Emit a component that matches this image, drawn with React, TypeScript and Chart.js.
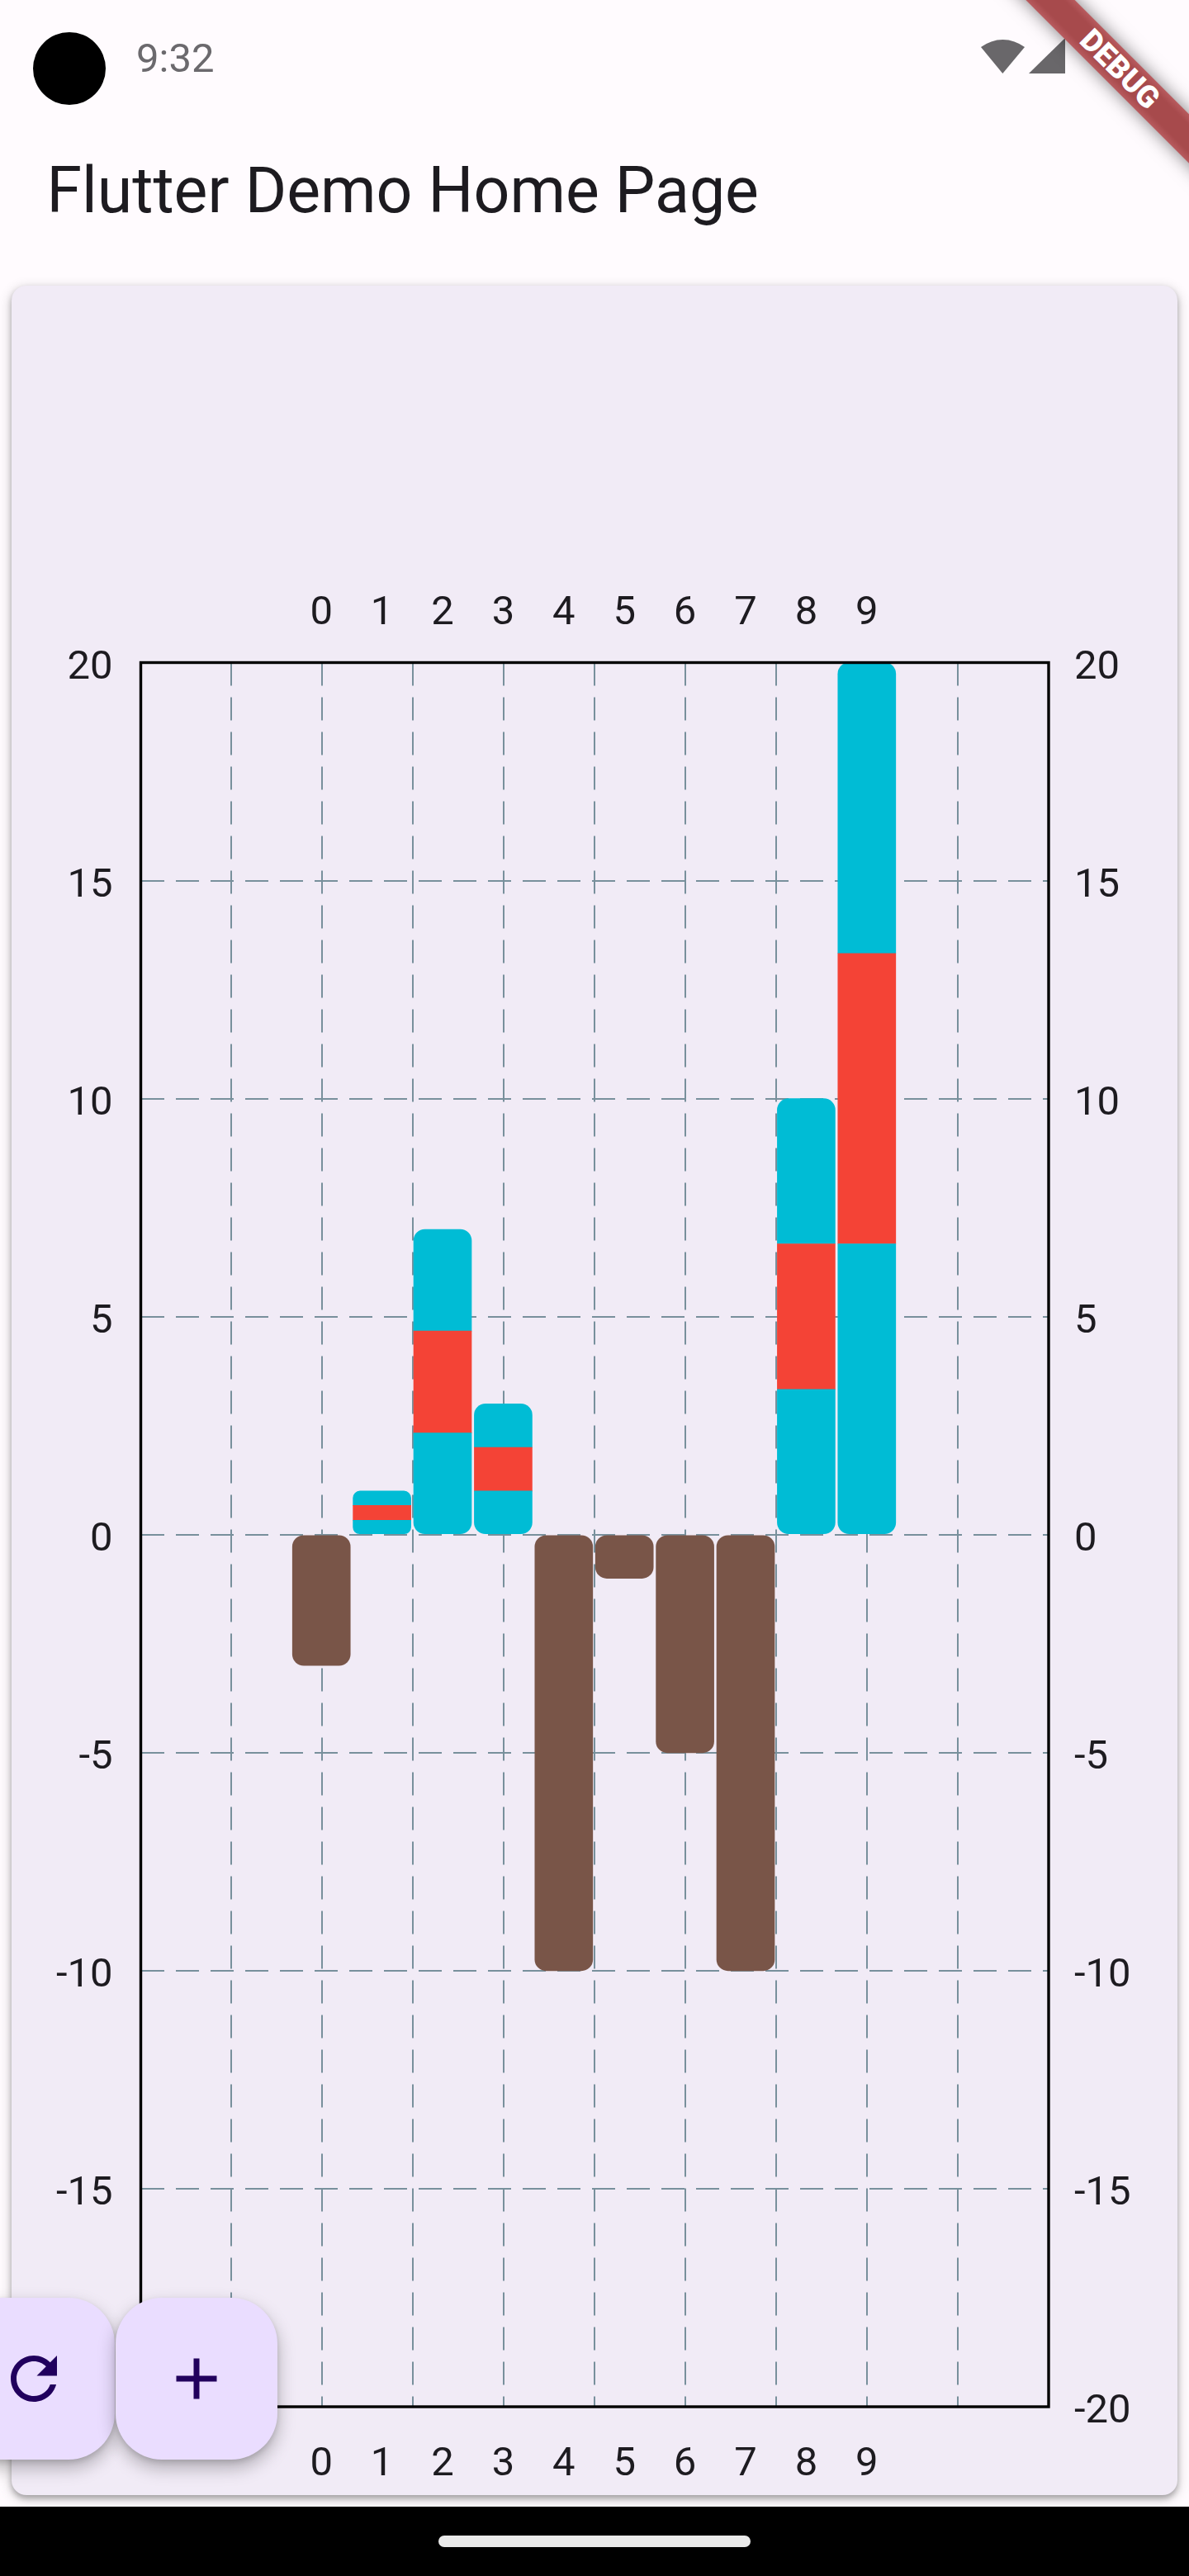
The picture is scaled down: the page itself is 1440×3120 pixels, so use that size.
import { useEffect, useRef } from 'react';
import { Chart, registerables } from 'chart.js';

Chart.register(...registerables);

const categories = [0, 1, 2, 3, 4, 5, 6, 7, 8, 9];
const cyanLower = [null, 0.33, 2.33, 1, null, null, null, null, 3.33, 6.67];
const redMiddle = [null, 0.34, 2.34, 1, null, null, null, null, 3.34, 6.66];
const cyanUpper = [null, 0.33, 2.33, 1, null, null, null, null, 3.33, 6.67];
const brownNegative = [-3, null, null, null, -10, -1, -5, -10, null, null];

const CYAN = '#00BCD5';
const RED = '#F44336';
const BROWN = '#795548';
const GRID = '#78909C';
const TEXT = '#1D1B20';

const CANVAS_W = 1412;
const CANVAS_H = 2676;
const RADIUS = 14;

const toPoints = (values: (number | null)[]) =>
  categories
    .map((x, i) => ({ x, y: values[i] }))
    .filter((p) => p.y !== null);

const plotBorder = {
  id: 'plotBorder',
  afterDraw(chart: Chart) {
    const { ctx, chartArea: a } = chart;
    ctx.save();
    ctx.strokeStyle = '#000';
    ctx.lineWidth = 3.4;
    ctx.strokeRect(a.left, a.top, a.right - a.left, a.bottom - a.top);
    ctx.restore();
  },
};

const tickFont = { family: 'Roboto', size: 49, lineHeight: 1 };

function BarChart() {
  const canvasRef = useRef<HTMLCanvasElement>(null);

  useEffect(() => {
    if (!canvasRef.current) return;
    const indexTicks = (scale: any) => {
      scale.ticks = categories.map((value) => ({ value }));
    };
    const indexAxis = (position: string, height: number, padding: number) => ({
      type: 'linear',
      position,
      min: -2.98,
      max: 12,
      offset: false,
      stacked: true,
      grid: { display: false, drawTicks: false },
      border: { display: false },
      afterBuildTicks: indexTicks,
      afterFit: (s: any) => { s.height = height; },
      ticks: {
        color: TEXT,
        font: tickFont,
        padding,
        autoSkip: false,
        maxRotation: 0,
        callback: (v: any) => String(v),
      },
    });
    const valueAxis = (position: string, width: number, padding: number, grid: boolean) => ({
      type: 'linear',
      position,
      min: -20,
      max: 20,
      stacked: true,
      grid: { display: grid, drawTicks: false, color: GRID, lineWidth: 2 },
      border: { display: false, dash: [28, 14] },
      afterFit: (s: any) => { s.width = width; },
      ticks: { stepSize: 5, color: TEXT, font: tickFont, padding, labelOffset: 7 },
    });

    const chart = new Chart(canvasRef.current, {
      type: 'bar',
      data: {
        datasets: [
          { data: toPoints(cyanLower), backgroundColor: CYAN, borderRadius: { topLeft: 0, topRight: 0, bottomLeft: RADIUS, bottomRight: RADIUS } },
          { data: toPoints(redMiddle), backgroundColor: RED, borderRadius: 0 },
          { data: toPoints(cyanUpper), backgroundColor: CYAN, borderRadius: { topLeft: RADIUS, topRight: RADIUS, bottomLeft: 0, bottomRight: 0 } },
          { data: toPoints(brownNegative), backgroundColor: BROWN, borderRadius: { topLeft: RADIUS, topRight: RADIUS, bottomLeft: RADIUS, bottomRight: RADIUS } },
        ],
      },
      options: {
        responsive: false,
        devicePixelRatio: 1,
        animation: false,
        layout: { padding: 0 },
        datasets: { bar: { barThickness: 70, borderSkipped: false, borderWidth: 0 } },
        plugins: { legend: { display: false }, tooltip: { enabled: false } },
        scales: {
          x: indexAxis('bottom', 107, 46),
          xTop: indexAxis('top', 456.5, 34),
          xGrid: {
            type: 'linear',
            position: 'bottom',
            min: 0,
            max: 10,
            offset: false,
            grid: { color: GRID, lineWidth: 2, drawTicks: false, offset: false },
            border: { display: false, dash: [28, 14] },
            afterFit: (s: any) => { s.height = 0; },
            ticks: { display: false, stepSize: 1 },
          },
          y: valueAxis('left', 156.5, 34, true),
          yRight: valueAxis('right', 156, 31, false),
        },
      },
      plugins: [plotBorder],
    } as never);
    return () => { chart.destroy(); };
  }, []);

  return (
    <canvas
      ref={canvasRef}
      width={CANVAS_W}
      height={CANVAS_H}
      style={{ position: 'absolute', left: 14, top: 346, display: 'block' }}
    />
  );
}

const fab = (left: number): React.CSSProperties => ({
  position: 'absolute',
  left,
  top: 2783,
  width: 196,
  height: 196,
  borderRadius: 56,
  background: '#EADDFF',
  boxShadow: '0 10px 21px rgba(0,0,0,0.28), 0 3px 7px rgba(0,0,0,0.12)',
  display: 'flex',
  alignItems: 'center',
  justifyContent: 'center',
});

export default function App() {
  return (
    <div
      style={{
        position: 'absolute',
        left: 0,
        top: 0,
        width: 1440,
        height: 3120,
        overflow: 'hidden',
        background: '#FFFBFE',
        fontFamily: 'Roboto',
      }}
    >
      {/* status bar */}
      <div style={{ position: 'absolute', left: 40, top: 39, width: 88, height: 88, borderRadius: '50%', background: '#000' }} />
      <div style={{ position: 'absolute', left: 165, top: 46, fontSize: 49, lineHeight: '49px', color: '#6B696D' }}>9:32</div>
      <svg style={{ position: 'absolute', left: 1180, top: 40 }} width={120} height={56} viewBox="1180 40 120 56">
        <path d="M1214.3 89 L1188 57 A44 44 0 0 1 1241 57 Z" fill="#69676A" />
        <path d="M1246 89 L1290 89 L1290 46 Z" fill="#69676A" />
      </svg>

      {/* app bar */}
      <div style={{ position: 'absolute', left: 56.5, top: 193, fontSize: 77, lineHeight: '77px', color: TEXT, whiteSpace: 'nowrap' }}>
        Flutter Demo Home Page
      </div>

      {/* card */}
      <div
        style={{
          position: 'absolute',
          left: 14,
          top: 346,
          width: 1412,
          height: 2676,
          borderRadius: 18,
          background: '#F1EBF6',
          boxShadow: '0 4px 7px rgba(0,0,0,0.28), 0 4px 14px 3px rgba(0,0,0,0.13)',
        }}
      />
      <BarChart />

      {/* floating buttons */}
      <div style={fab(-57)}>
        <svg width={84} height={84} viewBox="0 0 24 24">
          <path fill="#21005D" d="M17.65 6.35C16.2 4.9 14.21 4 12 4c-4.42 0-7.99 3.58-7.99 8s3.57 8 7.99 8c3.73 0 6.84-2.55 7.73-6h-2.08c-.82 2.33-3.04 4-5.65 4-3.31 0-6-2.69-6-6s2.69-6 6-6c1.66 0 3.14.69 4.22 1.78L13 11h7V4l-2.35 2.35z" />
        </svg>
      </div>
      <div style={fab(140)}>
        <svg width={84} height={84} viewBox="0 0 24 24">
          <path fill="#21005D" d="M19 13h-6v6h-2v-6H5v-2h6V5h2v6h6v2z" />
        </svg>
      </div>

      {/* navigation bar */}
      <div style={{ position: 'absolute', left: 0, top: 3036, width: 1440, height: 84, background: '#000' }} />
      <div style={{ position: 'absolute', left: 531, top: 3071, width: 378, height: 14, borderRadius: 7, background: '#EAEAEA' }} />

      {/* debug banner */}
      <div
        style={{
          position: 'absolute',
          left: 1271.7 + 84 - 200,
          top: 84 - 21,
          width: 400,
          height: 42,
          transform: 'rotate(45deg)',
          background: 'linear-gradient(#B85B5F, #A74A4C 22%, #A74A4C 78%, #B85B5F)',
          boxShadow: '0 0 21px rgba(0,0,0,0.5)',
          color: '#fff',
          fontSize: 37,
          fontWeight: 900,
          lineHeight: '42px',
          textAlign: 'center',
        }}
      >
        DEBUG
      </div>
    </div>
  );
}
